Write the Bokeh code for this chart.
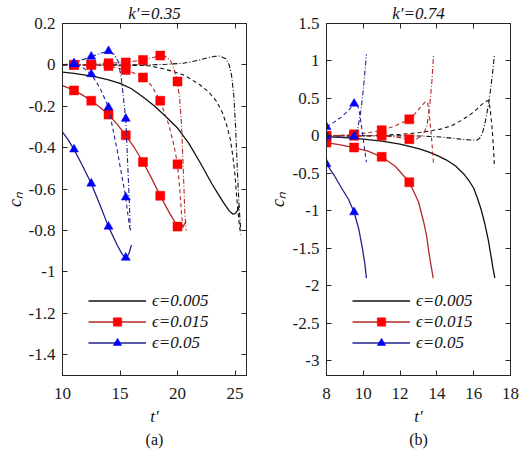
from bokeh.plotting import figure
from bokeh.layouts import row
from bokeh.models import LinearAxis, FixedTicker, Range1d, Legend, LegendItem, Title
from bokeh.embed import file_html
from bokeh.resources import INLINE

# ---------------- panel (a): k' = 0.35 ----------------
a_xticks = [10, 15, 20, 25]
a_xlabels = ["10", "15", "20", "25"]
a_yticks = [-1.4, -1.2, -1, -0.8, -0.6, -0.4, -0.2, 0, 0.2]
a_ylabels = ["-1.4", "-1.2", "-1", "-0.8", "-0.6", "-0.4", "-0.2", "0", "0.2"]

# eps = 0.005 (black, no markers)
a_blk_sol_t = [10, 11, 12, 13, 14, 15, 16, 17, 18, 19, 20, 21, 22, 23, 23.5, 24, 24.5, 24.8, 25.0, 25.2, 25.4]
a_blk_sol_c = [-0.035, -0.041, -0.049, -0.059, -0.072, -0.089, -0.115, -0.155, -0.198, -0.25, -0.305, -0.38,
               -0.475, -0.575, -0.62, -0.665, -0.705, -0.72, -0.718, -0.705, -0.68]
a_blk_das_t = [10, 12, 14, 16, 17, 17.6, 18.5, 19.5, 20.5, 21.2, 21.94, 22.7, 23.4, 23.9, 24.26, 24.6, 24.83,
               25.0, 25.1, 25.25, 25.4, 25.5]
a_blk_das_c = [0.0, 0.0, -0.001, -0.002, -0.003, -0.005, -0.015, -0.03, -0.048, -0.07, -0.096, -0.13, -0.176,
               -0.23, -0.288, -0.36, -0.448, -0.53, -0.608, -0.7, -0.784, -0.82]
a_blk_dd_t = [10, 14, 17.6, 19, 20.5, 21.2, 21.94, 22.6, 23.2, 23.7, 24.2, 24.5, 24.7, 24.9, 25.05, 25.2, 25.35, 25.5]
a_blk_dd_c = [0.0, 0.0, 0.0, 0.003, 0.008, 0.015, 0.024, 0.034, 0.041, 0.043, 0.03, 0.0, -0.05, -0.15, -0.3,
              -0.5, -0.68, -0.8]

# eps = 0.015 (red squares)
a_red_marks = [11, 12.5, 14, 15.5, 17, 18.5, 20]
a_red_sol_t = [10, 10.5, 11, 11.75, 12.5, 13.25, 14, 14.75, 15.5, 16.25, 17, 17.75, 18.5, 19.25, 20, 20.3, 20.55, 20.75]
a_red_sol_c = [-0.1, -0.111, -0.123, -0.146, -0.173, -0.204, -0.24, -0.286, -0.34, -0.4, -0.469, -0.548, -0.632,
               -0.71, -0.781, -0.785, -0.775, -0.755]
a_red_das_t = [10, 11, 12.5, 14, 15.5, 16.25, 17, 17.75, 18.5, 19.25, 19.7, 20, 20.2, 20.35, 20.5]
a_red_das_c = [0.0, 0.0, 0.0, -0.005, -0.024, -0.04, -0.061, -0.1, -0.173, -0.29, -0.39, -0.48, -0.6, -0.72, -0.8]
a_red_dd_t = [10, 11, 12.5, 14, 15.5, 17, 17.75, 18.5, 19.0, 19.4, 19.7, 20, 20.2, 20.35, 20.5, 20.64, 20.75]
a_red_dd_c = [0.0, 0.0, 0.002, 0.008, 0.012, 0.024, 0.034, 0.045, 0.04, 0.02, -0.02, -0.08, -0.17, -0.288, -0.5,
              -0.72, -0.8]

# eps = 0.05 (blue triangles)
a_blu_marks = [11, 12.5, 14, 15.5]
a_blu_sol_t = [10, 10.5, 11, 11.75, 12.5, 13.25, 14, 14.75, 15.2, 15.5, 15.75, 16.0]
a_blu_sol_c = [-0.325, -0.362, -0.408, -0.488, -0.573, -0.675, -0.781, -0.87, -0.915, -0.931, -0.915, -0.87]
a_blu_das_t = [10, 11, 11.75, 12.5, 13.25, 14, 14.75, 15.5, 15.7, 15.85]
a_blu_das_c = [0.0, 0.003, -0.012, -0.045, -0.11, -0.205, -0.41, -0.64, -0.73, -0.79]
a_blu_dd_t = [10, 11, 11.75, 12.5, 13.25, 14, 14.5, 14.85, 15.1, 15.3, 15.5, 15.65, 15.8, 15.9]
a_blu_dd_c = [0.0, 0.008, 0.025, 0.04, 0.055, 0.067, 0.05, 0.016, -0.06, -0.16, -0.26, -0.45, -0.65, -0.8]

# ---------------- panel (b): k' = 0.74 ----------------
b_xticks = [8, 10, 12, 14, 16, 18]
b_xlabels = ["8", "10", "12", "14", "16", "18"]
b_yticks = [-3, -2.5, -2, -1.5, -1, -0.5, 0, 0.5, 1, 1.5]
b_ylabels = ["-3", "-2.5", "-2", "-1.5", "-1", "-0.5", "0", "0.5", "1", "1.5"]

b_blk_sol_t = [8, 9, 10, 11, 12, 13, 13.5, 14, 14.5, 15, 15.5, 15.75, 16, 16.2, 16.4, 16.6, 16.8, 16.95, 17.05, 17.15]
b_blk_sol_c = [-0.01, -0.025, -0.045, -0.07, -0.11, -0.17, -0.21, -0.26, -0.32, -0.4, -0.52, -0.6, -0.7, -0.83,
               -0.98, -1.17, -1.4, -1.62, -1.77, -1.9]
b_blk_das_t = [8, 10, 11, 12, 13.1, 14.2, 14.8, 15.28, 15.8, 16.19, 16.4, 16.55, 16.7, 16.82, 16.9, 17.0, 17.07, 17.13]
b_blk_das_c = [0.0, 0.003, 0.008, 0.02, 0.044, 0.09, 0.135, 0.2, 0.28, 0.36, 0.41, 0.44, 0.465, 0.47, 0.35, 0.11,
               -0.15, -0.42]
b_blk_dd_t = [8, 10, 12, 13.1, 14.2, 15.28, 15.8, 16.19, 16.37, 16.5, 16.64, 16.82, 17.0, 17.13]
b_blk_dd_c = [0.0, 0.0, 0.0, -0.003, -0.015, -0.044, -0.055, -0.058, -0.02, 0.06, 0.2, 0.44, 0.78, 1.09]

b_red_marks = [8, 9.5, 11, 12.5]
b_red_sol_t = [8, 8.75, 9.5, 10.25, 11, 11.75, 12.5, 13.0, 13.29, 13.45, 13.56, 13.68, 13.8]
b_red_sol_c = [-0.09, -0.12, -0.156, -0.205, -0.28, -0.41, -0.62, -0.88, -1.16, -1.35, -1.55, -1.73, -1.9]
b_red_das_t = [8, 8.75, 9.5, 10.25, 11, 11.75, 12.5, 12.9, 13.2, 13.4, 13.5, 13.6, 13.7, 13.82]
b_red_das_c = [0.0, 0.008, 0.02, 0.04, 0.075, 0.135, 0.22, 0.32, 0.41, 0.46, 0.44, 0.25, 0.0, -0.38]
b_red_dd_t = [8, 9.5, 11, 11.75, 12.5, 12.9, 13.2, 13.45, 13.6, 13.72, 13.82]
b_red_dd_c = [0.0, 0.0, 0.0, -0.015, -0.045, -0.04, 0.0, 0.12, 0.38, 0.7, 1.09]

b_blu_marks = [8, 9.5]
b_blu_sol_t = [8, 8.4, 8.8, 9.2, 9.5, 9.75, 9.95, 10.08, 10.17]
b_blu_sol_c = [-0.377, -0.52, -0.69, -0.85, -1.02, -1.24, -1.5, -1.7, -1.9]
b_blu_das_t = [8, 8.4, 8.8, 9.2, 9.5, 9.65, 9.8, 9.95, 10.08, 10.17]
b_blu_das_c = [0.12, 0.18, 0.25, 0.34, 0.43, 0.45, 0.3, 0.05, -0.2, -0.35]
b_blu_dd_t = [8, 8.5, 9, 9.5, 9.7, 9.85, 9.95, 10.05, 10.12, 10.17]
b_blu_dd_c = [-0.01, -0.02, -0.02, -0.01, 0.1, 0.3, 0.5, 0.75, 0.95, 1.09]

eps_labels = ["\u03f5=0.005", "\u03f5=0.015", "\u03f5=0.05"]

BLACK = "#111111"
RED_LINE = "#b42828"
BLUE_LINE = "#22228c"
RED_MK = "#ff0000"
BLUE_MK = "#0000ff"
FRAME = "#262626"
SERIF = "Liberation Serif"
DASH = "4 3"
DASHDOT = "5 2 1 2"


def pick(t, c, marks):
    idx = [t.index(m) for m in marks]
    return [t[i] for i in idx], [c[i] for i in idx]


def style_axis(ax, ticks, labels, show_labels, standoff=7):
    ax.ticker = FixedTicker(ticks=ticks)
    ax.major_tick_in = 5
    ax.major_tick_out = 0
    ax.minor_tick_line_color = None
    ax.axis_line_color = FRAME
    ax.major_tick_line_color = FRAME
    if show_labels:
        ax.major_label_overrides = {k: s for k, s in zip(ticks, labels)}
        ax.major_label_text_font = SERIF
        ax.major_label_text_font_size = "17px"
        ax.major_label_text_color = "#1a1a1a"
        ax.major_label_standoff = standoff
        ax.axis_label_text_font = SERIF
        ax.axis_label_text_font_style = "italic"
        ax.axis_label_text_font_size = "18px"
        ax.axis_label_text_color = "#111111"
    else:
        # tick marks only on the top and right edges of the box
        ax.major_label_text_font_size = "0px"
        ax.major_label_text_color = None
        ax.major_label_standoff = 0


def make_panel(width, left_border, right_border, xr, yr, xt, xl, yt, yl, curves, title, tag, ylab_standoff):
    p = figure(width=width, height=449, x_range=Range1d(*xr), y_range=Range1d(*yr),
               output_backend="svg", toolbar_location=None, title=title,
               min_border_left=left_border, min_border_right=right_border,
               min_border_top=23, min_border_bottom=74)
    p.title.align = "center"
    p.title.text_font = SERIF
    p.title.text_font_style = "italic"
    p.title.text_font_size = "17px"
    p.title.text_color = "#111111"
    p.title.standoff = 1
    p.title.offset = 0

    p.xgrid.visible = False
    p.ygrid.visible = False
    p.outline_line_color = FRAME
    p.background_fill_color = "white"
    p.border_fill_color = "white"

    xa = p.xaxis[0]
    ya = p.yaxis[0]
    style_axis(xa, xt, xl, True, standoff=12)
    style_axis(ya, yt, yl, True, standoff=7)
    xa.axis_label = "t\u2032"
    xa.axis_label_standoff = 5
    xa.axis_label_text_font_size = "17px"
    ya.axis_label = "c\u2099"
    ya.axis_label_standoff = ylab_standoff

    top = LinearAxis()
    right = LinearAxis()
    style_axis(top, xt, xl, False)
    style_axis(right, yt, yl, False)
    p.add_layout(top, "above")
    p.add_layout(right, "right")

    p.add_layout(Title(text=tag, align="center", text_font=SERIF, text_font_style="normal",
                       text_font_size="16px", text_color="#111111", standoff=0), "below")

    legend_items = []
    for (color, mk, mcolor, marks, sol, das, dd, lab) in curves:
        r_sol = p.line(sol[0], sol[1], line_color=color, line_width=1.3)
        p.line(das[0], das[1], line_color=color, line_width=1.1, line_dash=DASH)
        p.line(dd[0], dd[1], line_color=color, line_width=1.1, line_dash=DASHDOT)
        rens = [r_sol]
        if mk is not None:
            for tc in (sol, das, dd):
                mt, mc = pick(tc[0], tc[1], marks)
                r_mk = p.scatter(mt, mc, marker=mk, size=9,
                                 fill_color=mcolor, line_color=mcolor, line_width=0.5)
                if tc is sol:
                    rens.append(r_mk)
        legend_items.append(LegendItem(label=lab, renderers=rens))

    legend = Legend(items=legend_items, location=(26, 22), orientation="vertical",
                    padding=0, margin=0, spacing=0, glyph_width=58, glyph_height=21,
                    label_height=21, label_standoff=6, border_line_color=None,
                    background_fill_alpha=0, label_text_font=SERIF,
                    label_text_font_style="italic", label_text_font_size="17px",
                    label_text_color="#111111")
    p.add_layout(legend)
    return p


curves_a = [
    (BLACK, None, None, [], (a_blk_sol_t, a_blk_sol_c), (a_blk_das_t, a_blk_das_c), (a_blk_dd_t, a_blk_dd_c), eps_labels[0]),
    (RED_LINE, "square", RED_MK, a_red_marks, (a_red_sol_t, a_red_sol_c), (a_red_das_t, a_red_das_c), (a_red_dd_t, a_red_dd_c), eps_labels[1]),
    (BLUE_LINE, "triangle", BLUE_MK, a_blu_marks, (a_blu_sol_t, a_blu_sol_c), (a_blu_das_t, a_blu_das_c), (a_blu_dd_t, a_blu_dd_c), eps_labels[2]),
]
curves_b = [
    (BLACK, None, None, [], (b_blk_sol_t, b_blk_sol_c), (b_blk_das_t, b_blk_das_c), (b_blk_dd_t, b_blk_dd_c), eps_labels[0]),
    (RED_LINE, "square", RED_MK, b_red_marks, (b_red_sol_t, b_red_sol_c), (b_red_das_t, b_red_das_c), (b_red_dd_t, b_red_dd_c), eps_labels[1]),
    (BLUE_LINE, "triangle", BLUE_MK, b_blu_marks, (b_blu_sol_t, b_blu_sol_c), (b_blu_das_t, b_blu_das_c), (b_blu_dd_t, b_blu_dd_c), eps_labels[2]),
]

pa = make_panel(263, 62, 17, (10, 26), (-1.5, 0.2), a_xticks, a_xlabels, a_yticks, a_ylabels,
                curves_a, "k\u2032=0.35", "(a)", 1)
pb = make_panel(257, 63, 10, (8, 18), (-3.2, 1.5), b_xticks, b_xlabels, b_yticks, b_ylabels,
                curves_b, "k\u2032=0.74", "(b)", 2)

layout = row(pa, pb)
open("out.html", "w").write(file_html(layout, INLINE))
